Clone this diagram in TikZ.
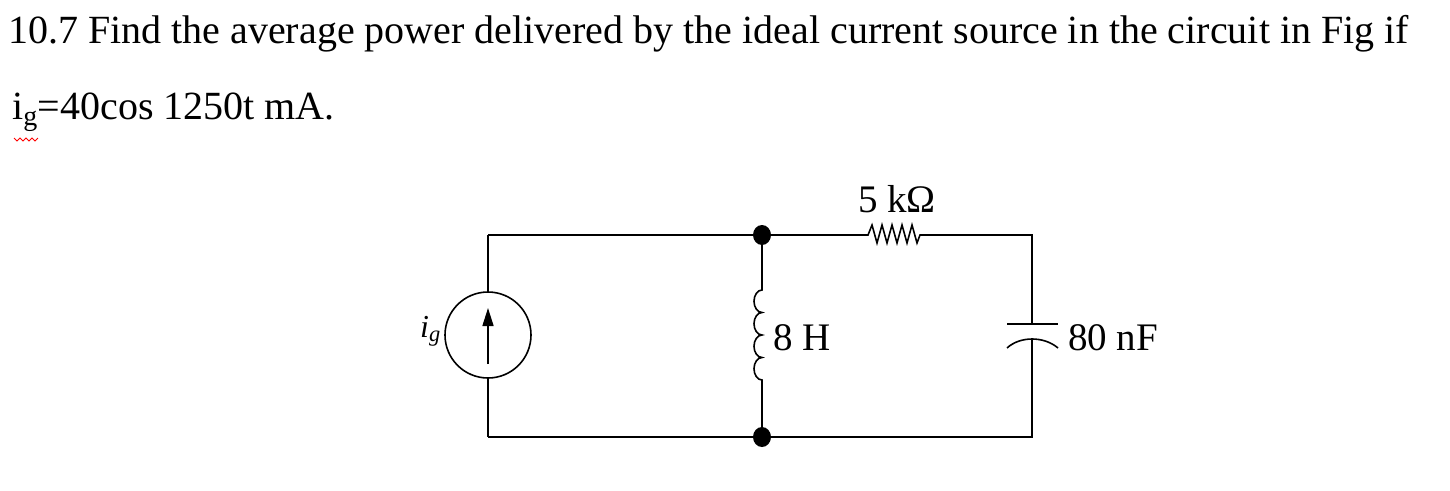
\documentclass[tikz,border=0pt]{standalone}
\usepackage{fontspec}
\usetikzlibrary{arrows.meta}
\setmainfont{Liberation Serif}
\begin{document}
\begin{tikzpicture}[x=1pt,y=-1pt,wire/.style={line width=1.6pt},lbl/.style={font=\fontsize{39}{39}\selectfont,inner sep=0pt}]
\useasboundingbox (0,0) rectangle (1450,490);
\node[anchor=west,inner sep=0pt,font=\fontsize{40}{40}\selectfont] (l1) at (8,34) {10.7 Find the average power delivered by the ideal current source in the circuit in Fig if};
\node[anchor=west,inner sep=0pt,font=\fontsize{40}{40}\selectfont] (l2) at (12,112) {i\textsubscript{g}=40cos 1250t mA.};
\draw[red,line width=0.8pt] (14,138) -- ++(3,3) -- ++(3,-3) -- ++(3,3) -- ++(3,-3) -- ++(3,3) -- ++(3,-3) -- ++(3,3) -- ++(3,-3);
% nodes
\coordinate (tl) at (488,235); \coordinate (bl) at (488,437);
\coordinate (tm) at (762,235); \coordinate (bm) at (762,437);
\coordinate (tr) at (1032,235); \coordinate (br) at (1032,437);
\node[draw,wire,circle,minimum size=86pt,inner sep=0pt] (src) at (488,335) {};
\draw[wire] (tl) -- (src.north); \draw[wire] (src.south) -- (bl);
\draw[line width=1.6pt,-{Triangle[length=18pt,width=11pt]}] (488,364) -- (488,308);
\node[lbl,font=\fontsize{32}{32}\selectfont\itshape,anchor=east] (ig) at (441,331) {i\textsubscript{g}};
\draw[wire] (bl) -- (bm) -- (br) -- (1032,339);
\draw[wire] (tl) -- (tm) -- (868,235) -- (872,225) -- (877,243) -- (882,225) -- (887,243) -- (892,225) -- (897,243) -- (902,225) -- (907,243) -- (912,225) -- (917,243) -- (920,235) -- (tr) -- (1032,324);
\fill (tm) ellipse (9pt and 10pt); \fill (bm) ellipse (9pt and 10pt);
% inductor
\draw[wire] (tm) -- (762,290) arc (270:90:8 and 11.25) arc (270:90:8 and 11.25) arc (270:90:8 and 11.25) arc (270:90:8 and 11.25) -- (bm);
% capacitor
\draw[wire] (1007,324) -- (1058,324);
\draw[wire] (1007,348) .. controls (1020,336) and (1044,336) .. (1058,348);
\node[lbl] (r) at (897,199) {5 kΩ};
\node[lbl] (lh) at (802,338) {8 H};
\node[lbl] (lc) at (1113,338) {80 nF};
\end{tikzpicture}
\end{document}
